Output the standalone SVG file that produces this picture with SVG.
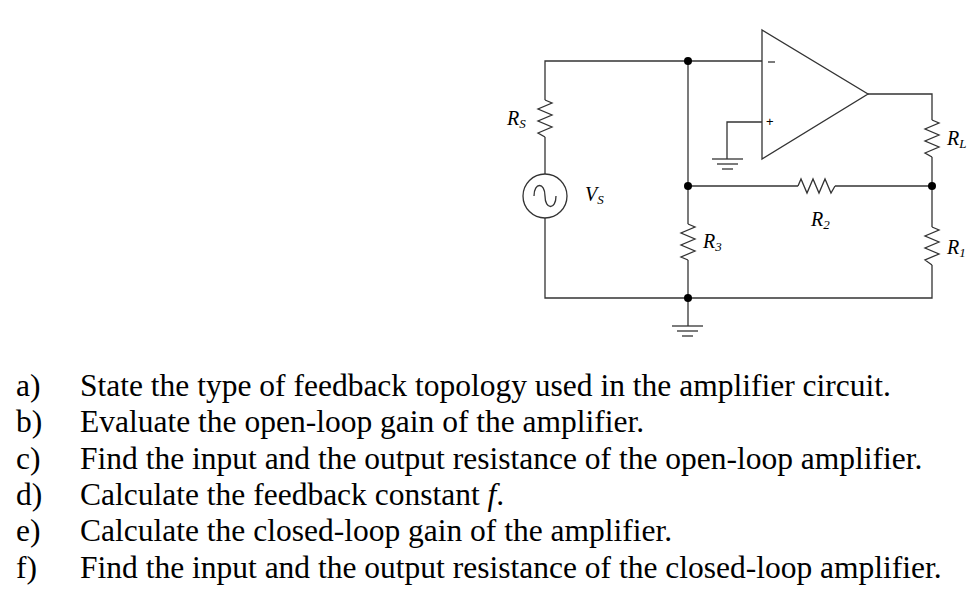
<svg xmlns="http://www.w3.org/2000/svg" width="980" height="600" viewBox="0 0 980 600">
<style>
.w{fill:none;stroke:#333;stroke-width:1.3}
.d{fill:#000}
.l{font-family:"Liberation Serif",serif;font-style:italic;font-size:20px}
.s{font-size:13px}
.t{font-family:"Liberation Serif",serif;font-size:31.5px}
</style>
<rect width="980" height="600" fill="#fff"/>
<g id="wires" class="w">
<polyline points="545,100 545,61 762,61"/>
<line x1="545" y1="137" x2="545" y2="174"/>
<polyline points="545,218 545,298 932,298 932,265"/>
<line x1="688" y1="61" x2="688" y2="224"/>
<line x1="688" y1="260" x2="688" y2="326"/>
<polyline points="688,186 798,186"/>
<polyline points="835,186 932,186"/>
<polyline points="868,94 932,94 932,120"/>
<line x1="932" y1="157" x2="932" y2="227"/>
<polyline points="762,122 727,122 727,159"/>
</g>
<g id="opamp"><polygon class="w" points="762,30 762,159 868,94"/><line class="w" x1="768" y1="62" x2="775" y2="62"/><text x="766" y="126" font-family="Liberation Sans,sans-serif" font-size="13">+</text></g>
<g id="gnd1" class="w"><line x1="712" y1="159" x2="743" y2="159"/><line x1="717" y1="164" x2="738" y2="164"/><line x1="722" y1="169" x2="733" y2="169"/></g>
<g id="gnd2" class="w"><line x1="672" y1="326" x2="703" y2="326"/><line x1="677" y1="331" x2="698" y2="331"/><line x1="682" y1="336" x2="693" y2="336"/></g>
<g id="RS"><polyline class="w" points="545,100 552,103 538,109 552,115 538,121 552,127 538,133 545,137"/><text class="l" x="507" y="125">R<tspan class="s" dy="3">S</tspan></text></g>
<g id="VS"><circle class="w" cx="545" cy="196" r="22"/><path class="w" d="M534,196 C534,182 545,182 545,196 C545,210 556,210 556,196"/><text class="l" x="585" y="201">V<tspan class="s" dy="3">S</tspan></text></g>
<g id="R3"><polyline class="w" points="688,224 695,227 681,233 695,239 681,245 695,251 681,257 688,260"/><text class="l" x="703" y="248">R<tspan class="s" dy="3">3</tspan></text></g>
<g id="RL"><polyline class="w" points="932,120 939,123 925,129 939,135 925,141 939,147 925,153 932,157"/><text class="l" x="947" y="145">R<tspan class="s" dy="3">L</tspan></text></g>
<g id="R1"><polyline class="w" points="932,227 939,230 925,236 939,242 925,248 939,254 925,260 932,265"/><text class="l" x="947" y="254">R<tspan class="s" dy="3">1</tspan></text></g>
<g id="R2"><polyline class="w" points="798,186 801,179 807,193 813,179 819,193 825,179 831,193 835,186"/><text class="l" x="811" y="226">R<tspan class="s" dy="3">2</tspan></text></g>
<g id="nodes"><circle class="d" cx="688" cy="61" r="4"/><circle class="d" cx="688" cy="186" r="4"/><circle class="d" cx="932" cy="186" r="4"/><circle class="d" cx="688" cy="298" r="4"/></g>
<g id="text" class="t">
<text x="16" y="396">a)</text><text x="80" y="396">State the type of feedback topology used in the amplifier circuit.</text>
<text x="16" y="432">b)</text><text x="80" y="432">Evaluate the open-loop gain of the amplifier.</text>
<text x="16" y="469">c)</text><text x="80" y="469">Find the input and the output resistance of the open-loop amplifier.</text>
<text x="16" y="505">d)</text><text x="80" y="505">Calculate the feedback constant <tspan font-style="italic">f</tspan>.</text>
<text x="16" y="541">e)</text><text x="80" y="541">Calculate the closed-loop gain of the amplifier.</text>
<text x="16" y="578">f)</text><text x="80" y="578">Find the input and the output resistance of the closed-loop amplifier.</text>
</g>
</svg>
